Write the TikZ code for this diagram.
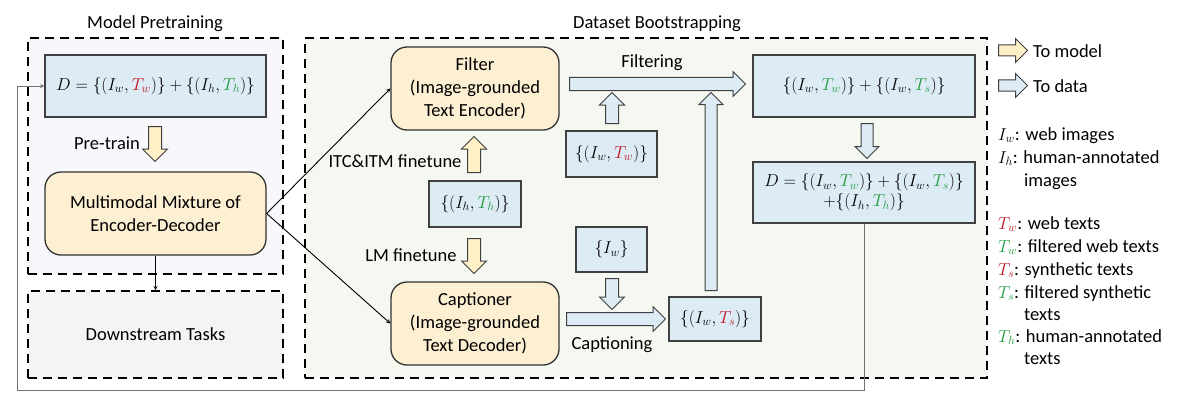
\documentclass[tikz,border=0pt]{standalone}
\usepackage{amsmath, amssymb}
\usepackage{fontspec}
\setmainfont{Carlito}
\usetikzlibrary{shapes.geometric, shapes.arrows, arrows}
\definecolor{dataFill}{HTML}{DDEBF5}
\definecolor{modelFill}{HTML}{FDEFD2}
\definecolor{arrowYellow}{HTML}{FFF0C8}
\definecolor{preFill}{HTML}{F8F7FC}
\definecolor{bootFill}{HTML}{F5F8F1}
\definecolor{downFill}{HTML}{F4F4F4}
\definecolor{webRed}{HTML}{C0141E}
\definecolor{filtGreen}{HTML}{1E9B3C}
\newcommand{\rT}[1]{\textcolor{webRed}{T_{#1}}}
\newcommand{\gT}[1]{\textcolor{filtGreen}{T_{#1}}}
\tikzstyle{pane} = [rectangle, draw=black, dash pattern=on 9pt off 6pt, line width=1.6pt, inner sep=0pt]
\tikzstyle{databox} = [rectangle, draw=black!75, line width=1.3pt, fill=dataFill, align=center, inner sep=0pt]
\tikzstyle{modelbox} = [rectangle, rounded corners=16pt, draw=black!80, line width=1.3pt, fill=modelFill, align=center, inner sep=0pt]
\tikzstyle{tomodel} = [single arrow, draw=black!75, line width=1pt, fill=arrowYellow, inner xsep=0pt, inner ysep=6pt, single arrow head extend=6pt, minimum width=0pt, single arrow tip angle=90, anchor=tail]
\tikzstyle{todata} = [tomodel, fill=dataFill]
\tikzstyle{arrow} = [->, >=stealth, line width=0.9pt]
\tikzstyle{feedback} = [->, >=stealth, draw=black!55, line width=0.9pt]
\tikzstyle{legend} = [anchor=base west, inner sep=0pt]

\begin{document}
\begin{tikzpicture}[x=1pt, y=-1pt, font=\fontsize{18.5}{23}\selectfont]
\useasboundingbox (0,0) rectangle (1194,412);

% dashed panes
\node at (155.5, 156) (pre) [pane, fill=preFill, minimum width=255pt, minimum height=236pt] {};
\node at (155.5, 334.5) (down) [pane, fill=downFill, minimum width=255pt, minimum height=87pt] {Downstream Tasks};
\node at (646, 208) (boot) [pane, fill=bootFill, minimum width=682pt, minimum height=340pt] {};
\node at (155, 24) (preTitle) {Model Pretraining};
\node at (657, 24) (bootTitle) {Dataset Bootstrapping};

% model pretraining
\node at (155.5, 86) (data) [databox, minimum width=221pt, minimum height=62pt] {$D=\{(I_w,\rT{w})\}+\{(I_h,\gT{h})\}$};
\node at (155.5, 213.5) (mmed) [modelbox, minimum width=221pt, minimum height=83pt] {Multimodal Mixture of\\Encoder-Decoder};
\node at (155, 126) (pretrainArrow) [tomodel, rotate=-90, minimum height=35pt] {};
\node at (107, 143) (pretrainLabel) {Pre-train};

% filter and captioner
\node at (475, 88.5) (filter) [modelbox, minimum width=168pt, minimum height=83pt] {Filter\\(Image-grounded\\Text Encoder)};
\node at (475, 323.5) (captioner) [modelbox, minimum width=168pt, minimum height=83pt] {Captioner\\(Image-grounded\\Text Decoder)};
\node at (475, 204) (human) [databox, minimum width=92pt, minimum height=46pt] {$\{(I_h,\gT{h})\}$};
\node at (474, 173) (itcArrow) [tomodel, rotate=90, minimum height=36pt] {};
\node at (474, 238) (lmArrow) [tomodel, rotate=-90, minimum height=35pt] {};
\node at (395, 161) (itcLabel) {ITC\&ITM finetune};
\node at (411, 255) (lmLabel) {LM finetune};

% web data
\node at (611.5, 154) (webPairs) [databox, minimum width=91pt, minimum height=46pt] {$\{(I_w,\rT{w})\}$};
\node at (611.5, 249.5) (webImages) [databox, minimum width=71pt, minimum height=45pt] {$\{I_w\}$};
\node at (715, 319) (synthPairs) [databox, minimum width=92pt, minimum height=44pt] {$\{(I_w,\rT{s})\}$};
\node at (569, 84) (filterArrow) [todata, minimum height=176pt] {};
\node at (612, 124) (webPairsArrow) [todata, rotate=90, minimum height=31pt] {};
\node at (612, 278) (webImagesArrow) [todata, rotate=-90, minimum height=31pt] {};
\node at (566, 319) (captionArrow) [todata, minimum height=99pt] {};
\node at (711, 291) (synthArrow) [todata, rotate=90, minimum height=198pt, inner ysep=5.5pt] {};
\node at (652, 63) (filterLabel) {Filtering};
\node at (612, 345) (captionLabel) {Captioning};

% bootstrapped dataset
\node at (864, 86) (filtered) [databox, minimum width=222pt, minimum height=62pt] {$\{(I_w,\gT{w})\}+\{(I_w,\gT{s})\}$};
\node at (864, 192.5) (newData) [databox, minimum width=222pt, minimum height=61pt] {$D=\{(I_w,\gT{w})\}+\{(I_w,\gT{s})\}$\\[-3pt]$+\{(I_h,\gT{h})\}$};
\node at (867, 123) (newDataArrow) [todata, rotate=-90, minimum height=35pt, inner ysep=5.5pt] {};

\draw [arrow] (mmed.east) -- (filter.west);
\draw [arrow] (mmed.east) -- (captioner.west);
\draw [arrow] (mmed.south) -- (down.north);
\coordinate (loop) at (17, 390);
\draw [feedback] (newData.south) |- (loop) |- (data.west);

% legend
\node at (998, 50.5) (keyModel) [tomodel, minimum height=29pt, inner ysep=5pt, single arrow head extend=6.5pt] {};
\node at (998, 85.5) (keyData) [todata, minimum height=29pt, inner ysep=5pt, single arrow head extend=6.5pt] {};
\node at (1033, 51) (keyModelText) [anchor=west, inner sep=0pt] {To model};
\node at (1033, 86) (keyDataText) [anchor=west, inner sep=0pt] {To data};
\node at (998, 140) (leg1) [legend] {$I_w$: web images};
\node at (998, 163) (leg2) [legend] {$I_h$: human-annotated};
\node at (1024, 186) (leg3) [legend] {images};
\node at (998, 229) (leg4) [legend] {$\rT{w}$: web texts};
\node at (998, 252) (leg5) [legend] {$\gT{w}$: filtered web texts};
\node at (998, 275) (leg6) [legend] {$\rT{s}$: synthetic texts};
\node at (998, 298) (leg7) [legend] {$\gT{s}$: filtered synthetic};
\node at (1024, 320) (leg8) [legend] {texts};
\node at (998, 342) (leg9) [legend] {$\gT{h}$: human-annotated};
\node at (1024, 364) (leg10) [legend] {texts};

\end{tikzpicture}
\end{document}
